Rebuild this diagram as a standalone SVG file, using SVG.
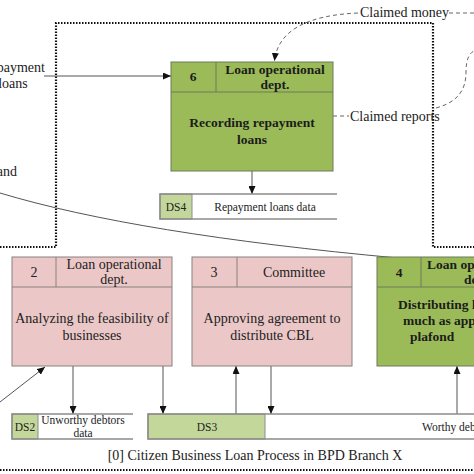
<svg xmlns="http://www.w3.org/2000/svg" width="474" height="474" viewBox="0 0 474 474">
<defs>
<style>
.t{font-family:"Liberation Serif","Times New Roman",serif;font-size:14px;fill:#222}
.b{font-weight:bold;font-size:13.5px;fill:#1c1c1c}
.s{font-size:11.5px}
.m{text-anchor:middle}
.g{fill:#9bbb59;stroke:#6e7a5a;stroke-width:1}
.p{fill:#ebc8c7;stroke:#8a8080;stroke-width:1}
.dsg{fill:#c4d79b;stroke:#8c8c8c;stroke-width:1}
.dsl{stroke:#8c8c8c;stroke-width:1.5;fill:none}
.ln{stroke:#555;stroke-width:1;fill:none}
.dash{stroke:#666;stroke-width:1;fill:none;stroke-dasharray:4 3}
.dot{stroke:#111;stroke-width:2.2;fill:none;stroke-dasharray:1.5 1.5}
</style>
<marker id="ah" markerUnits="userSpaceOnUse" markerWidth="8" markerHeight="7" refX="8" refY="3.5" orient="auto">
<path d="M0,0 L8,3.5 L0,7 z" fill="#111"/>
</marker>
</defs>
<rect width="474" height="474" fill="#fff"/>

<g id="boundary">
<path class="dot" d="M0,247 H56 V23 H433 V247 H474"/>
<path class="dot" d="M0,470 H474"/>
</g>

<g id="connectors">
<path class="ln" d="M44,76 H171" marker-end="url(#ah)"/>
<path class="dash" d="M358,13 C312,15 278,28 274.5,61" marker-end="url(#ah)"/>
<path class="dash" d="M449,13 H474"/>
<path class="dash" d="M333,116 H349"/>
<path class="dash" d="M436,108 C458,102 466,90 466,72 C466,58 470,52 476,50"/>
<path class="ln" d="M252,171 V194" marker-end="url(#ah)"/>
<path class="ln" d="M0,193 Q136,234 398,258"/>
<path class="ln" d="M0,402 L45,367" marker-end="url(#ah)"/>
<path class="ln" d="M73,366 V414" marker-end="url(#ah)"/>
<path class="ln" d="M163,366 V414" marker-end="url(#ah)"/>
<path class="ln" d="M236,414 V366" marker-end="url(#ah)"/>
<path class="ln" d="M271,366 V414" marker-end="url(#ah)"/>
<path class="ln" d="M457,414 V366" marker-end="url(#ah)"/>
</g>

<g id="labels">
<text class="t m" x="13" y="72">Repayment</text>
<text class="t m" x="13" y="88">loans</text>
<text class="t" x="17" y="176" text-anchor="end">and</text>
<text class="t" x="360" y="17">Claimed money</text>
<text class="t" x="350" y="121">Claimed reports</text>
<text class="t m" x="255" y="460">[0] Citizen Business Loan Process in BPD Branch X</text>
</g>

<g id="node6">
<rect class="g" x="171" y="62" width="162" height="109"/>
<path class="g" d="M171,92 H333 M216,62 V92"/>
<text class="t b m" x="193" y="81">6</text>
<text class="t b m" x="275" y="74">Loan operational</text>
<text class="t b m" x="275" y="89">dept.</text>
<text class="t b m" x="252" y="127">Recording repayment</text>
<text class="t b m" x="252" y="144">loans</text>
</g>

<g id="ds4">
<rect class="dsg" x="160" y="194" width="32" height="25"/>
<path class="dsl" d="M337,194 H160 V219 H337"/>
<text class="t s m" x="176" y="211">DS4</text>
<text class="t s m" x="265" y="211">Repayment loans data</text>
</g>

<g id="node2">
<rect class="p" x="12" y="257" width="160" height="109"/>
<path class="p" d="M12,287 H172 M56,257 V287"/>
<text class="t m" x="34" y="277">2</text>
<text class="t m" x="114" y="269">Loan operational</text>
<text class="t m" x="114" y="284">dept.</text>
<text class="t m" x="92" y="323">Analyzing the feasibility of</text>
<text class="t m" x="92" y="340">businesses</text>
</g>

<g id="node3">
<rect class="p" x="192" y="257" width="160" height="109"/>
<path class="p" d="M192,287 H352 M237,257 V287"/>
<text class="t m" x="214" y="277">3</text>
<text class="t m" x="294" y="277">Committee</text>
<text class="t m" x="272" y="323">Approving agreement to</text>
<text class="t m" x="272" y="340">distribute CBL</text>
</g>

<g id="node4">
<rect class="g" x="377" y="257" width="160" height="109"/>
<path class="g" d="M377,287 H537 M421,257 V287"/>
<text class="t b m" x="399" y="277">4</text>
<text class="t b" x="427" y="269">Loan operational</text>
<text class="t b" x="464" y="284">dept.</text>
<text class="t b" x="398" y="309">Distributing loans as</text>
<text class="t b" x="403" y="325">much as approved</text>
<text class="t b" x="410" y="341">plafond</text>
</g>

<g id="ds2">
<rect class="dsg" x="12" y="414" width="26" height="25"/>
<path class="dsl" d="M133,414 H12 V439 H133"/>
<text class="t s m" x="25" y="431">DS2</text>
<text class="t s m" x="83" y="424">Unworthy debtors</text>
<text class="t s m" x="83" y="437">data</text>
</g>

<g id="ds3">
<rect class="dsg" x="148" y="414" width="117" height="25"/>
<path class="dsl" d="M476,414 H148 V439 H476"/>
<text class="t s m" x="207" y="431">DS3</text>
<text class="t s" x="422" y="431">Worthy debtors data</text>
</g>
</svg>
